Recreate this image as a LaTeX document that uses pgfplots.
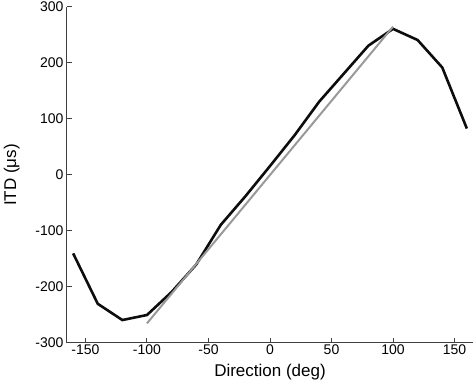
\documentclass[border=0pt]{standalone}
\usepackage{pgfplots}
\pgfplotsset{compat=1.18}
\usepackage{fontspec}
\setmainfont{Liberation Sans}
\begin{document}
\begin{tikzpicture}
\begin{axis}[
  name=ax,
  scale only axis,
  width=406pt, height=336pt,
  xmin=-165, xmax=165, ymin=-300, ymax=300,
  axis x line*=bottom, axis y line*=left,
  axis line style={black!75, line width=1pt, -},
  xtick={-150,-100,-50,0,50,100,150},
  ytick={-300,-200,-100,0,100,200,300},
  tick align=inside,
  major tick length=5pt,
  tick style={black!75, line width=1pt},
  /pgf/number format/assume math mode=true,
  tick label style={font=\fontsize{14}{16}\selectfont},
  xticklabel style={yshift=2pt},
  xlabel={Direction (deg)},
  ylabel={ITD (μs)},
  label style={font=\fontsize{17}{19}\selectfont},
  xlabel style={yshift=-3pt},
  ylabel style={yshift=9pt},
  clip=false,
]
\addplot[black!95, line width=2.6pt] coordinates {
(-160,-140) (-140,-230) (-120,-259) (-100,-250) (-80,-209) (-60,-160)
(-40,-89) (-20,-38) (0,16) (20,71) (40,131) (60,181) (80,231)
(100,261) (120,241) (140,192) (160,83)
};
\addplot[black!40, line width=2pt] coordinates {(-100,-265) (100,265)};
\end{axis}
\pgfresetboundingbox
\path (ax.south west) ++(-67pt,-48pt) rectangle (ax.north east);
\path (ax.north east) ++(1pt,7pt);
\end{tikzpicture}
\end{document}
